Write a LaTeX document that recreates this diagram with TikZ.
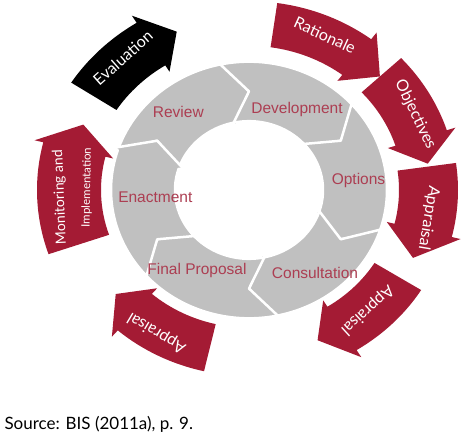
\documentclass[tikz,border=0pt]{standalone}
\usepackage{fontspec}
\usepackage{tikz}
\usetikzlibrary{calc}
\setmainfont{Lato}
\newfontfamily\ringfont{Liberation Sans}
\definecolor{cyclegrey}{RGB}{192,192,192}
\definecolor{cyclered}{RGB}{164,27,52}
\definecolor{stepred}{RGB}{172,62,82}

\begin{document}
\begin{tikzpicture}[x=1pt,y=1pt,
    greyseg/.style={fill=cyclegrey,draw=white,line width=2.5pt,line join=round},
    redseg/.style={fill=cyclered},
    steplabel/.style={text=stepred,font=\ringfont\fontsize{15.5}{17}\selectfont},
    stagelabel/.style={text=white,inner sep=1pt,font=\fontsize{16}{16}\selectfont}]
    \useasboundingbox (0,0) rectangle (474,432);
    \coordinate (O) at (249,242);
    \begin{scope}[shift={(O)},yscale=0.93]
    % inner cycle: six chevron segments, clockwise
    \foreach \h in {102,42,-18,-78,-138,162}
      \path[greyseg] ({\h+60}:138) arc[start angle=\h+60,end angle=\h,radius=138]
        -- (\h:145) -- ({\h-12}:106) -- (\h:67) -- (\h:74)
        arc[start angle=\h,end angle=\h+60,radius=74] -- ({\h+48}:106) -- cycle;
    \node[steplabel] (review) at (130:110) {Review};
    \node[steplabel] (development) at (61:99) {Development};
    \node[steplabel] (options) at (5.6:110) {Options};
    \node[steplabel] (consultation) at (-53.5:111) {Consultation};
    \node[steplabel] (proposal) at (239:101) {Final Proposal};
    \node[steplabel] (enactment) at (184.6:94) {Enactment};
    % outer cycle: tail/base/tip/inner/outer
    \foreach \t/\b/\p/\ri/\ro in {82/53/43/155/203,43/18/9/154/208,8/-14/-24/150/209,
        -32/-58/-67/148/203,257/229/220/148/200,199/166/157/148/212}
      \path[redseg] (\t:\ro) arc[start angle=\t,end angle=\b,radius=\ro]
        -- (\b:{\ro+9}) -- (\p:{(\ri+\ro)/2}) -- (\b:{\ri-8}) -- (\b:\ri)
        arc[start angle=\b,end angle=\t,radius=\ri] -- cycle;
    \path[fill=black] (147:212) arc[start angle=147,end angle=122,radius=212]
        -- (122:221) -- (113:185) -- (122:150) -- (122:158)
        arc[start angle=122,end angle=147,radius=158] -- cycle;
    %\draw[red] (0,0) circle (180);
    \node[stagelabel,rotate=-24.5] (rationale) at (65.5:183) {Rationale};
    \node[stagelabel,rotate=-64] (objectives) at (26:185) {Objectives};
    \node[stagelabel,rotate=-99.5] (appraisalA) at (-9.5:182) {Appraisal};
    \node[stagelabel,rotate=-137.5] (appraisalB) at (-47.5:175) {Appraisal};
    \node[stagelabel,rotate=149] (appraisalC) at (239:179) {Appraisal};
    \node[stagelabel,rotate=92.3,font=\fontsize{14}{14}\selectfont] (monitoring) at (182.3:189) {Monitoring and};
    \node[stagelabel,rotate=89,font=\fontsize{11.5}{11.5}\selectfont] (implementation) at (179:162) {Implementation};
    \node[stagelabel,rotate=41.6] (evaluation) at (131.6:190) {Evaluation};
    \end{scope}
    \node[anchor=base west,font=\fontsize{17}{19}\selectfont] (source) at (1,3) {Source: BIS (2011a), p. 9.};
\end{tikzpicture}
\end{document}
